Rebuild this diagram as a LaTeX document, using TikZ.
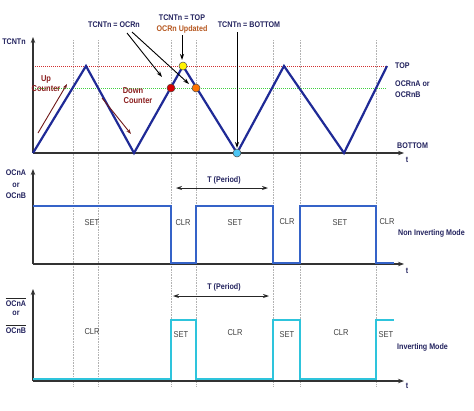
\documentclass[tikz,border=0pt]{standalone}
\usepackage{fontspec}
\setmainfont{Liberation Sans}
\newfontfamily\narrowfont[FakeStretch=0.87]{Liberation Sans}
\usetikzlibrary{arrows.meta}
\definecolor{txtnavy}{HTML}{22225E}
\definecolor{tri}{HTML}{1F2A96}
\definecolor{wblue}{HTML}{3563C8}
\definecolor{wcyan}{HTML}{2EC4DC}
\definecolor{maroon}{HTML}{8B1E1E}
\definecolor{updclr}{HTML}{B5561E}
\definecolor{topred}{HTML}{D03030}
\definecolor{ocrgreen}{HTML}{40D040}
\begin{document}
\begin{tikzpicture}[x=1pt,y=-1pt,
  axis/.style={draw=black!80, line width=1.4pt, -{Stealth[length=6pt,width=4.5pt]}},
  lbl/.style={font=\narrowfont\fontsize{8.2}{9}\selectfont\bfseries, text=txtnavy, inner sep=0pt},
  state/.style={font=\narrowfont\fontsize{8.6}{10}\selectfont, text=black!75, inner sep=0pt},
  cnt/.style={font=\narrowfont\fontsize{8.6}{10}\selectfont\bfseries, text=maroon, inner sep=0pt},
  guide/.style={draw=black!30, densely dotted, line width=0.6pt},
  ann/.style={draw=black, line width=0.9pt, -{Stealth[length=6pt,width=4pt]}},
  cntarrow/.style={draw=maroon!80!black, line width=0.9pt, -{Stealth[length=5pt,width=3.5pt]}},
  period/.style={draw=black!85, line width=0.9pt, {Stealth[length=6pt,width=4pt]}-{Stealth[length=6pt,width=4pt]}},
  dot/.style={circle, draw=black!70, line width=0.5pt, minimum size=8pt, inner sep=0pt}
]
\useasboundingbox (0,0) rectangle (474,410);

% guides
\foreach \gx in {73,98,171,196,273,300,376}
  \draw[guide] (\gx,40) -- (\gx,386);

% ---------- top plot ----------
\draw[topred, densely dotted, line width=1pt] (33,66) -- (387,66);
\draw[ocrgreen, densely dotted, line width=1pt] (33,88) -- (387,88);
\coordinate (o1) at (33,153);
\coordinate (y1) at (33,37);
\coordinate (x1) at (404,153);
\draw[axis] (o1) -- (y1);
\draw[axis] (o1) -- (x1);
\draw[tri, line width=2.2pt, line join=miter] (33,153) -- (86,66) -- (134,153) -- (183,66) -- (237,153) -- (284,66) -- (344,153) -- (387,66);

\node[dot, fill=red!85!black] (red) at (171,88) {};
\node[dot, fill=orange!90!red] (org) at (196,88) {};
\node[dot, fill=yellow] (yel) at (183,66) {};
\node[dot, fill=cyan!70] (cyn) at (237,153) {};

\node[lbl] (tcnt) at (14,42) {TCNTn};
\node[lbl] (eqocr) at (114,25) {TCNTn = OCRn};
\node[lbl] (eqtop) at (182,18) {TCNTn = TOP};
\node[lbl, text=updclr] (upd) at (182,29) {OCRn Updated};
\node[lbl] (eqbot) at (249,25) {TCNTn = BOTTOM};

\coordinate (a1s) at (127,33);
\coordinate (a1e) at (162,77);
\coordinate (a2s) at (132,32);
\coordinate (a2e) at (189,84);
\draw[ann] (a1s) -- (a1e);
\draw[ann] (a2s) -- (a2e);
\coordinate (a3s) at (182,35);
\coordinate (a3e) at (182,60);
\draw[ann] (a3s) -- (a3e);
\coordinate (a4s) at (237,32);
\coordinate (a4e) at (237,148);
\draw[ann] (a4s) -- (a4e);

\node[cnt] (up1) at (46,79) {Up};
\node[cnt] (up2) at (46,89) {Counter};
\node[cnt] (dn1) at (133,91) {Down};
\node[cnt] (dn2) at (138,101) {Counter};
\coordinate (c1s) at (38,133);
\coordinate (c1e) at (67,84);
\coordinate (c2s) at (102,98);
\coordinate (c2e) at (131,134);
\draw[cntarrow] (c1s) -- (c1e);
\draw[cntarrow] (c2s) -- (c2e);

\node[lbl, anchor=west] (top) at (395,66) {TOP};
\node[lbl, anchor=west] (ocra) at (395,84) {OCRnA or};
\node[lbl, anchor=west] (ocrb) at (395,95) {OCRnB};
\node[lbl, anchor=west] (bot) at (397,146) {BOTTOM};
\node[lbl] (t1) at (407,160) {t};

% ---------- middle plot ----------
\coordinate (o2) at (33,264);
\coordinate (y2) at (33,169);
\coordinate (x2) at (404,264);
\draw[axis] (o2) -- (y2);
\draw[axis] (o2) -- (x2);
\draw[wblue, line width=2pt] (33,206) -- (171,206) -- (171,263) -- (196,263) -- (196,206) -- (273,206) -- (273,263) -- (300,263) -- (300,206) -- (376,206) -- (376,263) -- (394,263);

\node[lbl] (oca) at (16,173) {OCnA};
\node[lbl] (or1) at (16,185) {or};
\node[lbl] (ocb) at (16,196) {OCnB};

\node[lbl] (tp1) at (224,180) {T (Period)};
\coordinate (p1l) at (176,188);
\coordinate (p1r) at (268,188);
\draw[period] (p1l) -- (p1r);

\node[state] (s1) at (92,223) {SET};
\node[state] (s2) at (183,223) {CLR};
\node[state] (s3) at (235,223) {SET};
\node[state] (s4) at (287,222) {CLR};
\node[state] (s5) at (340,223) {SET};
\node[state] (s6) at (387,222) {CLR};
\node[lbl, anchor=west] (nim) at (398,233) {Non Inverting Mode};
\node[lbl] (t2) at (407,271) {t};

% ---------- bottom plot ----------
\coordinate (o3) at (33,381);
\coordinate (y3) at (33,289);
\coordinate (x3) at (404,381);
\draw[axis] (o3) -- (y3);
\draw[axis] (o3) -- (x3);
\draw[wcyan, line width=2.4pt] (33,379) -- (171,379) -- (171,320) -- (196,320) -- (196,379) -- (273,379) -- (273,320) -- (300,320) -- (300,379) -- (376,379) -- (376,320) -- (394,320);

\node[lbl] (ocan) at (16,304) {OCnA};
\node[lbl] (or2) at (16,313) {or};
\node[lbl] (ocbn) at (16,331) {OCnB};
\draw[black!85, line width=0.8pt] ([yshift=3pt]ocan.north west) -- ([yshift=3pt]ocan.north east);
\draw[black!85, line width=0.8pt] ([yshift=3pt]ocbn.north west) -- ([yshift=3pt]ocbn.north east);

\node[lbl] (tp2) at (224,287) {T (Period)};
\coordinate (p2l) at (173,296);
\coordinate (p2r) at (269,296);
\draw[period] (p2l) -- (p2r);

\node[state] (b1) at (92,332) {CLR};
\node[state] (b2) at (181,335) {SET};
\node[state] (b3) at (235,333) {CLR};
\node[state] (b4) at (287,335) {SET};
\node[state] (b5) at (341,333) {CLR};
\node[state] (b6) at (386,335) {SET};
\node[lbl, anchor=west] (im) at (397,347) {Inverting Mode};
\node[lbl] (t3) at (407,386) {t};
\end{tikzpicture}
\end{document}
